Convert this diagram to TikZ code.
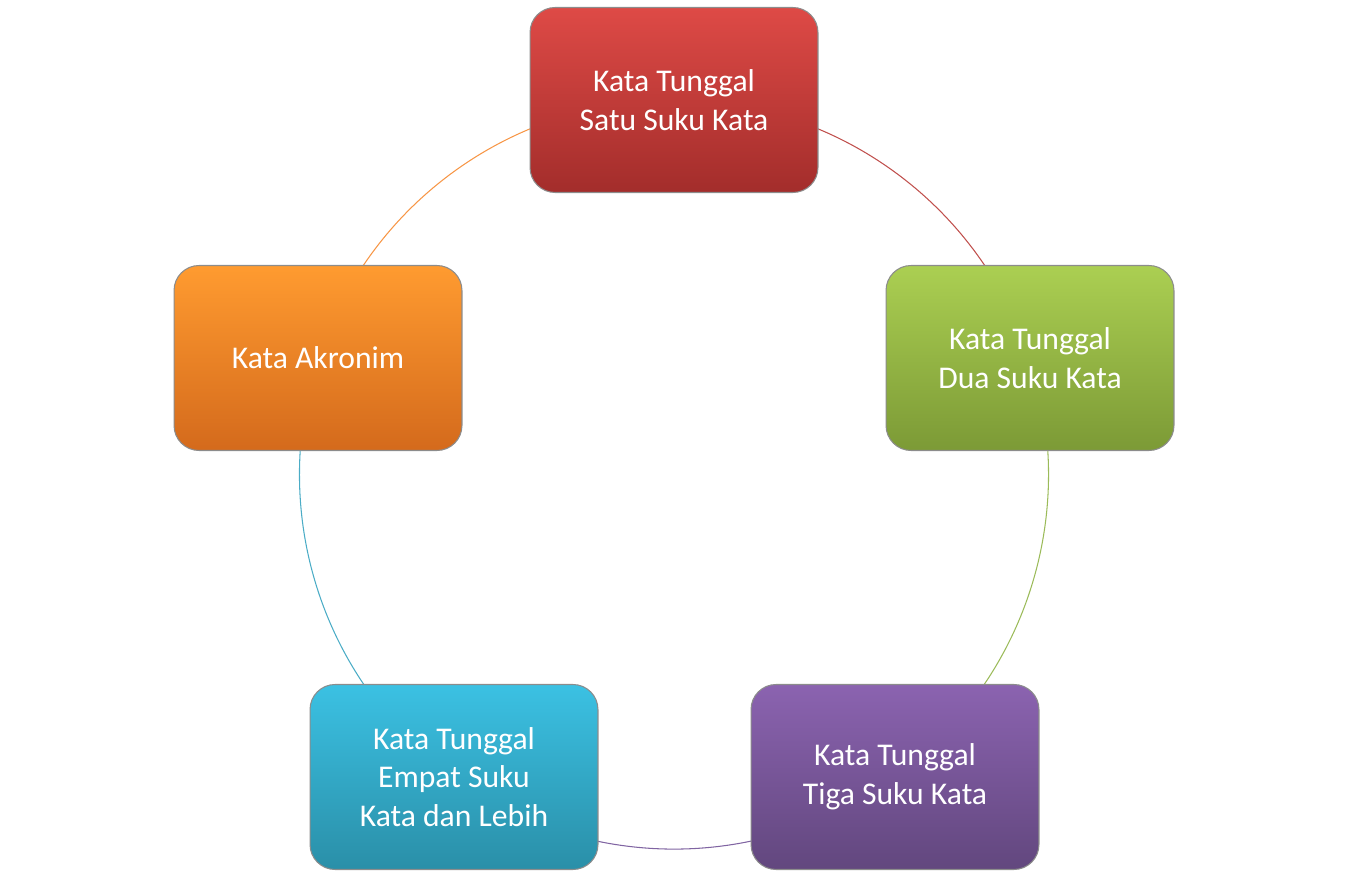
\documentclass[tikz,border=0pt]{standalone}
\usepackage{fontspec}
\setmainfont{Carlito}
\usetikzlibrary{calc}
\definecolor{rT}{HTML}{DE4A46}\definecolor{rB}{HTML}{A32D2B}\definecolor{rL}{HTML}{C0504D}
\definecolor{gT}{HTML}{ABCF52}\definecolor{gB}{HTML}{7C9A36}\definecolor{gL}{HTML}{9BBB59}
\definecolor{pT}{HTML}{8B63B0}\definecolor{pB}{HTML}{62477E}\definecolor{pL}{HTML}{8064A2}
\definecolor{bT}{HTML}{3BC1E3}\definecolor{bB}{HTML}{2A8FA8}\definecolor{bL}{HTML}{4BACC6}
\definecolor{oT}{HTML}{FF9B30}\definecolor{oB}{HTML}{D46A1C}\definecolor{oL}{HTML}{F79646}
\tikzset{
 box/.style={rounded corners=0.5cm, minimum width=5.76cm, minimum height=3.7cm,
   align=center, text=white, font=\fontsize{18}{22}\selectfont, draw=black!45, line width=0.6pt, inner sep=2pt},
 arc/.style={line width=0.6pt}
}
\begin{document}
\begin{tikzpicture}[x=0.02cm,y=-0.02cm]
\useasboundingbox (0,0) rectangle (1350,884);
\coordinate (c) at (674,474.6);
\def\R{7.492cm}
\draw[arc,oL] (c) ++(161.9:\R) arc[start angle=161.9,end angle=90,radius=\R];
\draw[arc,rL] (c) ++(90:\R) arc[start angle=90,end angle=18.1,radius=\R];
\draw[arc,gL] (c) ++(18.1:\R) arc[start angle=18.1,end angle=-53.8,radius=\R];
\draw[arc,pL] (c) ++(-53.8:\R) arc[start angle=-53.8,end angle=-126.2,radius=\R];
\draw[arc,bL] (c) ++(-126.2:\R) arc[start angle=-126.2,end angle=-198.1,radius=\R];
\node[box,top color=rT,bottom color=rB] (n1) at (674,100) {Kata Tunggal\\Satu Suku Kata};
\node[box,top color=gT,bottom color=gB] (n2) at (1030,358) {Kata Tunggal\\Dua Suku Kata};
\node[box,top color=pT,bottom color=pB] (n3) at (895,777) {Kata Tunggal\\Tiga Suku Kata};
\node[box,top color=bT,bottom color=bB] (n4) at (454,777) {Kata Tunggal\\Empat Suku\\Kata dan Lebih};
\node[box,top color=oT,bottom color=oB] (n5) at (318,358) {Kata Akronim};
\end{tikzpicture}
\end{document}
